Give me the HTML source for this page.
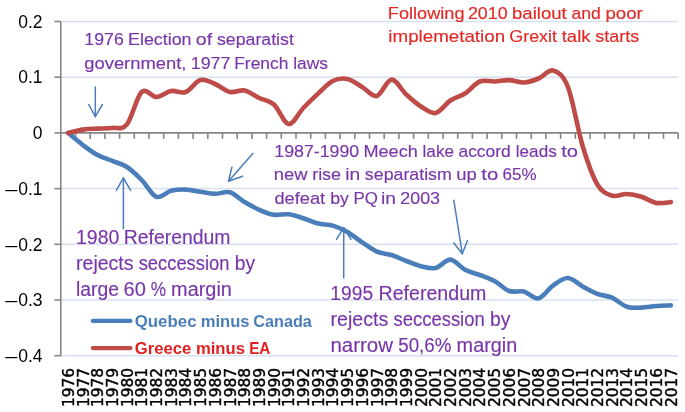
<!DOCTYPE html><html><head><meta charset="utf-8"><style>html,body{margin:0;padding:0;background:#fff;width:685px;height:412px;overflow:hidden}svg{display:block}</style></head><body>
<svg width="685" height="412" viewBox="0 0 685 412">
<rect width="685" height="412" fill="#fff"/>
<line x1="60.80" y1="21.50" x2="678.20" y2="21.50" stroke="#D6E0EF" stroke-width="1.5"/>
<line x1="60.80" y1="77.20" x2="678.20" y2="77.20" stroke="#D6E0EF" stroke-width="1.5"/>
<line x1="60.80" y1="188.60" x2="678.20" y2="188.60" stroke="#D6E0EF" stroke-width="1.5"/>
<line x1="60.80" y1="244.30" x2="678.20" y2="244.30" stroke="#D6E0EF" stroke-width="1.5"/>
<line x1="60.80" y1="300.00" x2="678.20" y2="300.00" stroke="#D6E0EF" stroke-width="1.5"/>
<line x1="60.80" y1="355.70" x2="678.20" y2="355.70" stroke="#D6E0EF" stroke-width="1.5"/>
<line x1="60.80" y1="21.50" x2="60.80" y2="355.70" stroke="#868686" stroke-width="1.6"/>
<line x1="54.40" y1="21.50" x2="60.80" y2="21.50" stroke="#868686" stroke-width="1.6"/>
<line x1="54.40" y1="77.20" x2="60.80" y2="77.20" stroke="#868686" stroke-width="1.6"/>
<line x1="54.40" y1="132.90" x2="60.80" y2="132.90" stroke="#868686" stroke-width="1.6"/>
<line x1="54.40" y1="188.60" x2="60.80" y2="188.60" stroke="#868686" stroke-width="1.6"/>
<line x1="54.40" y1="244.30" x2="60.80" y2="244.30" stroke="#868686" stroke-width="1.6"/>
<line x1="54.40" y1="300.00" x2="60.80" y2="300.00" stroke="#868686" stroke-width="1.6"/>
<line x1="54.40" y1="355.70" x2="60.80" y2="355.70" stroke="#868686" stroke-width="1.6"/>
<line x1="60.80" y1="132.90" x2="678.20" y2="132.90" stroke="#868686" stroke-width="1.6"/>
<line x1="75.50" y1="132.90" x2="75.50" y2="138.90" stroke="#868686" stroke-width="1.6"/>
<line x1="90.20" y1="132.90" x2="90.20" y2="138.90" stroke="#868686" stroke-width="1.6"/>
<line x1="104.90" y1="132.90" x2="104.90" y2="138.90" stroke="#868686" stroke-width="1.6"/>
<line x1="119.60" y1="132.90" x2="119.60" y2="138.90" stroke="#868686" stroke-width="1.6"/>
<line x1="134.30" y1="132.90" x2="134.30" y2="138.90" stroke="#868686" stroke-width="1.6"/>
<line x1="149.00" y1="132.90" x2="149.00" y2="138.90" stroke="#868686" stroke-width="1.6"/>
<line x1="163.70" y1="132.90" x2="163.70" y2="138.90" stroke="#868686" stroke-width="1.6"/>
<line x1="178.40" y1="132.90" x2="178.40" y2="138.90" stroke="#868686" stroke-width="1.6"/>
<line x1="193.10" y1="132.90" x2="193.10" y2="138.90" stroke="#868686" stroke-width="1.6"/>
<line x1="207.80" y1="132.90" x2="207.80" y2="138.90" stroke="#868686" stroke-width="1.6"/>
<line x1="222.50" y1="132.90" x2="222.50" y2="138.90" stroke="#868686" stroke-width="1.6"/>
<line x1="237.20" y1="132.90" x2="237.20" y2="138.90" stroke="#868686" stroke-width="1.6"/>
<line x1="251.90" y1="132.90" x2="251.90" y2="138.90" stroke="#868686" stroke-width="1.6"/>
<line x1="266.60" y1="132.90" x2="266.60" y2="138.90" stroke="#868686" stroke-width="1.6"/>
<line x1="281.30" y1="132.90" x2="281.30" y2="138.90" stroke="#868686" stroke-width="1.6"/>
<line x1="296.00" y1="132.90" x2="296.00" y2="138.90" stroke="#868686" stroke-width="1.6"/>
<line x1="310.70" y1="132.90" x2="310.70" y2="138.90" stroke="#868686" stroke-width="1.6"/>
<line x1="325.40" y1="132.90" x2="325.40" y2="138.90" stroke="#868686" stroke-width="1.6"/>
<line x1="340.10" y1="132.90" x2="340.10" y2="138.90" stroke="#868686" stroke-width="1.6"/>
<line x1="354.80" y1="132.90" x2="354.80" y2="138.90" stroke="#868686" stroke-width="1.6"/>
<line x1="369.50" y1="132.90" x2="369.50" y2="138.90" stroke="#868686" stroke-width="1.6"/>
<line x1="384.20" y1="132.90" x2="384.20" y2="138.90" stroke="#868686" stroke-width="1.6"/>
<line x1="398.90" y1="132.90" x2="398.90" y2="138.90" stroke="#868686" stroke-width="1.6"/>
<line x1="413.60" y1="132.90" x2="413.60" y2="138.90" stroke="#868686" stroke-width="1.6"/>
<line x1="428.30" y1="132.90" x2="428.30" y2="138.90" stroke="#868686" stroke-width="1.6"/>
<line x1="443.00" y1="132.90" x2="443.00" y2="138.90" stroke="#868686" stroke-width="1.6"/>
<line x1="457.70" y1="132.90" x2="457.70" y2="138.90" stroke="#868686" stroke-width="1.6"/>
<line x1="472.40" y1="132.90" x2="472.40" y2="138.90" stroke="#868686" stroke-width="1.6"/>
<line x1="487.10" y1="132.90" x2="487.10" y2="138.90" stroke="#868686" stroke-width="1.6"/>
<line x1="501.80" y1="132.90" x2="501.80" y2="138.90" stroke="#868686" stroke-width="1.6"/>
<line x1="516.50" y1="132.90" x2="516.50" y2="138.90" stroke="#868686" stroke-width="1.6"/>
<line x1="531.20" y1="132.90" x2="531.20" y2="138.90" stroke="#868686" stroke-width="1.6"/>
<line x1="545.90" y1="132.90" x2="545.90" y2="138.90" stroke="#868686" stroke-width="1.6"/>
<line x1="560.60" y1="132.90" x2="560.60" y2="138.90" stroke="#868686" stroke-width="1.6"/>
<line x1="575.30" y1="132.90" x2="575.30" y2="138.90" stroke="#868686" stroke-width="1.6"/>
<line x1="590.00" y1="132.90" x2="590.00" y2="138.90" stroke="#868686" stroke-width="1.6"/>
<line x1="604.70" y1="132.90" x2="604.70" y2="138.90" stroke="#868686" stroke-width="1.6"/>
<line x1="619.40" y1="132.90" x2="619.40" y2="138.90" stroke="#868686" stroke-width="1.6"/>
<line x1="634.10" y1="132.90" x2="634.10" y2="138.90" stroke="#868686" stroke-width="1.6"/>
<line x1="648.80" y1="132.90" x2="648.80" y2="138.90" stroke="#868686" stroke-width="1.6"/>
<line x1="663.50" y1="132.90" x2="663.50" y2="138.90" stroke="#868686" stroke-width="1.6"/>
<line x1="678.20" y1="132.90" x2="678.20" y2="138.90" stroke="#868686" stroke-width="1.6"/>
<text x="42.6" y="27.70" text-anchor="end" font-family="'Liberation Sans', sans-serif" font-size="17.5" fill="#000">0.2</text>
<text x="42.6" y="83.40" text-anchor="end" font-family="'Liberation Sans', sans-serif" font-size="17.5" fill="#000">0.1</text>
<text x="42.6" y="139.10" text-anchor="end" font-family="'Liberation Sans', sans-serif" font-size="17.5" fill="#000">0</text>
<text x="42.6" y="194.80" text-anchor="end" font-family="'Liberation Sans', sans-serif" font-size="17.5" fill="#000">0.1</text>
<text x="5.2" y="194.80" font-family="'Liberation Sans', sans-serif" font-size="17.5" fill="#000" textLength="12.1" lengthAdjust="spacingAndGlyphs">–</text>
<text x="42.6" y="250.50" text-anchor="end" font-family="'Liberation Sans', sans-serif" font-size="17.5" fill="#000">0.2</text>
<text x="5.2" y="250.50" font-family="'Liberation Sans', sans-serif" font-size="17.5" fill="#000" textLength="12.1" lengthAdjust="spacingAndGlyphs">–</text>
<text x="42.6" y="306.20" text-anchor="end" font-family="'Liberation Sans', sans-serif" font-size="17.5" fill="#000">0.3</text>
<text x="5.2" y="306.20" font-family="'Liberation Sans', sans-serif" font-size="17.5" fill="#000" textLength="12.1" lengthAdjust="spacingAndGlyphs">–</text>
<text x="42.6" y="361.90" text-anchor="end" font-family="'Liberation Sans', sans-serif" font-size="17.5" fill="#000">0.4</text>
<text x="5.2" y="361.90" font-family="'Liberation Sans', sans-serif" font-size="17.5" fill="#000" textLength="12.1" lengthAdjust="spacingAndGlyphs">–</text>
<text transform="translate(73.85 407.1) rotate(-90)" font-family="'DejaVu Sans', sans-serif" font-size="15.5" fill="#000" stroke="#000" stroke-width="0.4" textLength="39.3" lengthAdjust="spacingAndGlyphs">1976</text>
<text transform="translate(88.55 407.1) rotate(-90)" font-family="'DejaVu Sans', sans-serif" font-size="15.5" fill="#000" stroke="#000" stroke-width="0.4" textLength="39.3" lengthAdjust="spacingAndGlyphs">1977</text>
<text transform="translate(103.25 407.1) rotate(-90)" font-family="'DejaVu Sans', sans-serif" font-size="15.5" fill="#000" stroke="#000" stroke-width="0.4" textLength="39.3" lengthAdjust="spacingAndGlyphs">1978</text>
<text transform="translate(117.95 407.1) rotate(-90)" font-family="'DejaVu Sans', sans-serif" font-size="15.5" fill="#000" stroke="#000" stroke-width="0.4" textLength="39.3" lengthAdjust="spacingAndGlyphs">1979</text>
<text transform="translate(132.65 407.1) rotate(-90)" font-family="'DejaVu Sans', sans-serif" font-size="15.5" fill="#000" stroke="#000" stroke-width="0.4" textLength="39.3" lengthAdjust="spacingAndGlyphs">1980</text>
<text transform="translate(147.35 407.1) rotate(-90)" font-family="'DejaVu Sans', sans-serif" font-size="15.5" fill="#000" stroke="#000" stroke-width="0.4" textLength="39.3" lengthAdjust="spacingAndGlyphs">1981</text>
<text transform="translate(162.05 407.1) rotate(-90)" font-family="'DejaVu Sans', sans-serif" font-size="15.5" fill="#000" stroke="#000" stroke-width="0.4" textLength="39.3" lengthAdjust="spacingAndGlyphs">1982</text>
<text transform="translate(176.75 407.1) rotate(-90)" font-family="'DejaVu Sans', sans-serif" font-size="15.5" fill="#000" stroke="#000" stroke-width="0.4" textLength="39.3" lengthAdjust="spacingAndGlyphs">1983</text>
<text transform="translate(191.45 407.1) rotate(-90)" font-family="'DejaVu Sans', sans-serif" font-size="15.5" fill="#000" stroke="#000" stroke-width="0.4" textLength="39.3" lengthAdjust="spacingAndGlyphs">1984</text>
<text transform="translate(206.15 407.1) rotate(-90)" font-family="'DejaVu Sans', sans-serif" font-size="15.5" fill="#000" stroke="#000" stroke-width="0.4" textLength="39.3" lengthAdjust="spacingAndGlyphs">1985</text>
<text transform="translate(220.85 407.1) rotate(-90)" font-family="'DejaVu Sans', sans-serif" font-size="15.5" fill="#000" stroke="#000" stroke-width="0.4" textLength="39.3" lengthAdjust="spacingAndGlyphs">1986</text>
<text transform="translate(235.55 407.1) rotate(-90)" font-family="'DejaVu Sans', sans-serif" font-size="15.5" fill="#000" stroke="#000" stroke-width="0.4" textLength="39.3" lengthAdjust="spacingAndGlyphs">1987</text>
<text transform="translate(250.25 407.1) rotate(-90)" font-family="'DejaVu Sans', sans-serif" font-size="15.5" fill="#000" stroke="#000" stroke-width="0.4" textLength="39.3" lengthAdjust="spacingAndGlyphs">1988</text>
<text transform="translate(264.95 407.1) rotate(-90)" font-family="'DejaVu Sans', sans-serif" font-size="15.5" fill="#000" stroke="#000" stroke-width="0.4" textLength="39.3" lengthAdjust="spacingAndGlyphs">1989</text>
<text transform="translate(279.65 407.1) rotate(-90)" font-family="'DejaVu Sans', sans-serif" font-size="15.5" fill="#000" stroke="#000" stroke-width="0.4" textLength="39.3" lengthAdjust="spacingAndGlyphs">1990</text>
<text transform="translate(294.35 407.1) rotate(-90)" font-family="'DejaVu Sans', sans-serif" font-size="15.5" fill="#000" stroke="#000" stroke-width="0.4" textLength="39.3" lengthAdjust="spacingAndGlyphs">1991</text>
<text transform="translate(309.05 407.1) rotate(-90)" font-family="'DejaVu Sans', sans-serif" font-size="15.5" fill="#000" stroke="#000" stroke-width="0.4" textLength="39.3" lengthAdjust="spacingAndGlyphs">1992</text>
<text transform="translate(323.75 407.1) rotate(-90)" font-family="'DejaVu Sans', sans-serif" font-size="15.5" fill="#000" stroke="#000" stroke-width="0.4" textLength="39.3" lengthAdjust="spacingAndGlyphs">1993</text>
<text transform="translate(338.45 407.1) rotate(-90)" font-family="'DejaVu Sans', sans-serif" font-size="15.5" fill="#000" stroke="#000" stroke-width="0.4" textLength="39.3" lengthAdjust="spacingAndGlyphs">1994</text>
<text transform="translate(353.15 407.1) rotate(-90)" font-family="'DejaVu Sans', sans-serif" font-size="15.5" fill="#000" stroke="#000" stroke-width="0.4" textLength="39.3" lengthAdjust="spacingAndGlyphs">1995</text>
<text transform="translate(367.85 407.1) rotate(-90)" font-family="'DejaVu Sans', sans-serif" font-size="15.5" fill="#000" stroke="#000" stroke-width="0.4" textLength="39.3" lengthAdjust="spacingAndGlyphs">1996</text>
<text transform="translate(382.55 407.1) rotate(-90)" font-family="'DejaVu Sans', sans-serif" font-size="15.5" fill="#000" stroke="#000" stroke-width="0.4" textLength="39.3" lengthAdjust="spacingAndGlyphs">1997</text>
<text transform="translate(397.25 407.1) rotate(-90)" font-family="'DejaVu Sans', sans-serif" font-size="15.5" fill="#000" stroke="#000" stroke-width="0.4" textLength="39.3" lengthAdjust="spacingAndGlyphs">1998</text>
<text transform="translate(411.95 407.1) rotate(-90)" font-family="'DejaVu Sans', sans-serif" font-size="15.5" fill="#000" stroke="#000" stroke-width="0.4" textLength="39.3" lengthAdjust="spacingAndGlyphs">1999</text>
<text transform="translate(426.65 407.1) rotate(-90)" font-family="'DejaVu Sans', sans-serif" font-size="15.5" fill="#000" stroke="#000" stroke-width="0.4" textLength="39.3" lengthAdjust="spacingAndGlyphs">2000</text>
<text transform="translate(441.35 407.1) rotate(-90)" font-family="'DejaVu Sans', sans-serif" font-size="15.5" fill="#000" stroke="#000" stroke-width="0.4" textLength="39.3" lengthAdjust="spacingAndGlyphs">2001</text>
<text transform="translate(456.05 407.1) rotate(-90)" font-family="'DejaVu Sans', sans-serif" font-size="15.5" fill="#000" stroke="#000" stroke-width="0.4" textLength="39.3" lengthAdjust="spacingAndGlyphs">2002</text>
<text transform="translate(470.75 407.1) rotate(-90)" font-family="'DejaVu Sans', sans-serif" font-size="15.5" fill="#000" stroke="#000" stroke-width="0.4" textLength="39.3" lengthAdjust="spacingAndGlyphs">2003</text>
<text transform="translate(485.45 407.1) rotate(-90)" font-family="'DejaVu Sans', sans-serif" font-size="15.5" fill="#000" stroke="#000" stroke-width="0.4" textLength="39.3" lengthAdjust="spacingAndGlyphs">2004</text>
<text transform="translate(500.15 407.1) rotate(-90)" font-family="'DejaVu Sans', sans-serif" font-size="15.5" fill="#000" stroke="#000" stroke-width="0.4" textLength="39.3" lengthAdjust="spacingAndGlyphs">2005</text>
<text transform="translate(514.85 407.1) rotate(-90)" font-family="'DejaVu Sans', sans-serif" font-size="15.5" fill="#000" stroke="#000" stroke-width="0.4" textLength="39.3" lengthAdjust="spacingAndGlyphs">2006</text>
<text transform="translate(529.55 407.1) rotate(-90)" font-family="'DejaVu Sans', sans-serif" font-size="15.5" fill="#000" stroke="#000" stroke-width="0.4" textLength="39.3" lengthAdjust="spacingAndGlyphs">2007</text>
<text transform="translate(544.25 407.1) rotate(-90)" font-family="'DejaVu Sans', sans-serif" font-size="15.5" fill="#000" stroke="#000" stroke-width="0.4" textLength="39.3" lengthAdjust="spacingAndGlyphs">2008</text>
<text transform="translate(558.95 407.1) rotate(-90)" font-family="'DejaVu Sans', sans-serif" font-size="15.5" fill="#000" stroke="#000" stroke-width="0.4" textLength="39.3" lengthAdjust="spacingAndGlyphs">2009</text>
<text transform="translate(573.65 407.1) rotate(-90)" font-family="'DejaVu Sans', sans-serif" font-size="15.5" fill="#000" stroke="#000" stroke-width="0.4" textLength="39.3" lengthAdjust="spacingAndGlyphs">2010</text>
<text transform="translate(588.35 407.1) rotate(-90)" font-family="'DejaVu Sans', sans-serif" font-size="15.5" fill="#000" stroke="#000" stroke-width="0.4" textLength="39.3" lengthAdjust="spacingAndGlyphs">2011</text>
<text transform="translate(603.05 407.1) rotate(-90)" font-family="'DejaVu Sans', sans-serif" font-size="15.5" fill="#000" stroke="#000" stroke-width="0.4" textLength="39.3" lengthAdjust="spacingAndGlyphs">2012</text>
<text transform="translate(617.75 407.1) rotate(-90)" font-family="'DejaVu Sans', sans-serif" font-size="15.5" fill="#000" stroke="#000" stroke-width="0.4" textLength="39.3" lengthAdjust="spacingAndGlyphs">2013</text>
<text transform="translate(632.45 407.1) rotate(-90)" font-family="'DejaVu Sans', sans-serif" font-size="15.5" fill="#000" stroke="#000" stroke-width="0.4" textLength="39.3" lengthAdjust="spacingAndGlyphs">2014</text>
<text transform="translate(647.15 407.1) rotate(-90)" font-family="'DejaVu Sans', sans-serif" font-size="15.5" fill="#000" stroke="#000" stroke-width="0.4" textLength="39.3" lengthAdjust="spacingAndGlyphs">2015</text>
<text transform="translate(661.85 407.1) rotate(-90)" font-family="'DejaVu Sans', sans-serif" font-size="15.5" fill="#000" stroke="#000" stroke-width="0.4" textLength="39.3" lengthAdjust="spacingAndGlyphs">2016</text>
<text transform="translate(676.55 407.1) rotate(-90)" font-family="'DejaVu Sans', sans-serif" font-size="15.5" fill="#000" stroke="#000" stroke-width="0.4" textLength="39.3" lengthAdjust="spacingAndGlyphs">2017</text>
<path d="M68.15 133.00 C70.60 135.00 77.95 141.33 82.85 145.00 C87.75 148.67 92.65 152.37 97.55 155.00 C102.45 157.63 107.35 158.80 112.25 160.80 C117.15 162.80 122.05 163.80 126.95 167.00 C131.85 170.20 136.75 175.03 141.65 180.00 C146.55 184.97 151.45 195.00 156.35 196.80 C161.25 198.60 166.15 192.00 171.05 190.80 C175.95 189.60 180.85 189.43 185.75 189.60 C190.65 189.77 195.55 191.10 200.45 191.80 C205.35 192.50 210.25 193.72 215.15 193.80 C220.05 193.88 224.95 190.93 229.85 192.30 C234.75 193.67 239.65 199.08 244.55 202.00 C249.45 204.92 254.35 207.68 259.25 209.80 C264.15 211.92 269.05 213.95 273.95 214.70 C278.85 215.45 283.75 213.72 288.65 214.30 C293.55 214.88 298.45 216.65 303.35 218.20 C308.25 219.75 313.15 222.37 318.05 223.60 C322.95 224.83 327.85 224.20 332.75 225.60 C337.65 227.00 342.55 229.22 347.45 232.00 C352.35 234.78 357.25 239.03 362.15 242.30 C367.05 245.57 371.95 249.48 376.85 251.60 C381.75 253.72 386.65 253.43 391.55 255.00 C396.45 256.57 401.35 259.12 406.25 261.00 C411.15 262.88 416.05 265.13 420.95 266.30 C425.85 267.47 430.75 269.12 435.65 268.00 C440.55 266.88 445.45 259.32 450.35 259.60 C455.25 259.88 460.15 267.13 465.05 269.70 C469.95 272.27 474.85 273.12 479.75 275.00 C484.65 276.88 489.55 278.33 494.45 281.00 C499.35 283.67 504.25 289.23 509.15 291.00 C514.05 292.77 518.95 290.38 523.85 291.60 C528.75 292.82 533.65 299.35 538.55 298.30 C543.45 297.25 548.35 288.68 553.25 285.30 C558.15 281.92 563.05 277.82 567.95 278.00 C572.85 278.18 577.75 283.75 582.65 286.40 C587.55 289.05 592.45 292.02 597.35 293.90 C602.25 295.78 607.15 295.57 612.05 297.70 C616.95 299.83 621.85 305.05 626.75 306.70 C631.65 308.35 636.55 307.72 641.45 307.60 C646.35 307.48 651.25 306.37 656.15 306.00 C661.05 305.63 668.40 305.50 670.85 305.40" fill="none" stroke="#4A7EBB" stroke-width="4.6" stroke-linecap="round" stroke-linejoin="round"/>
<path d="M68.15 132.90 C70.60 132.35 77.95 130.32 82.85 129.60 C87.75 128.88 92.65 128.87 97.55 128.60 C102.45 128.33 107.35 128.70 112.25 128.00 C117.15 127.30 122.05 130.40 126.95 124.40 C131.85 118.40 136.75 96.57 141.65 92.00 C146.55 87.43 151.45 97.17 156.35 97.00 C161.25 96.83 166.15 91.83 171.05 91.00 C175.95 90.17 180.85 93.83 185.75 92.00 C190.65 90.17 195.55 81.33 200.45 80.00 C205.35 78.67 210.25 82.00 215.15 84.00 C220.05 86.00 224.95 90.92 229.85 92.00 C234.75 93.08 239.65 89.50 244.55 90.50 C249.45 91.50 254.35 95.67 259.25 98.00 C264.15 100.33 269.05 100.17 273.95 104.50 C278.85 108.83 283.75 123.42 288.65 124.00 C293.55 124.58 298.45 113.07 303.35 108.00 C308.25 102.93 313.15 98.10 318.05 93.60 C322.95 89.10 327.85 83.43 332.75 81.00 C337.65 78.57 342.55 78.00 347.45 79.00 C352.35 80.00 357.25 84.17 362.15 87.00 C367.05 89.83 371.95 97.23 376.85 96.00 C381.75 94.77 386.65 79.85 391.55 79.60 C396.45 79.35 401.35 90.02 406.25 94.50 C411.15 98.98 416.05 103.42 420.95 106.50 C425.85 109.58 430.75 114.00 435.65 113.00 C440.55 112.00 445.45 103.75 450.35 100.50 C455.25 97.25 460.15 96.67 465.05 93.50 C469.95 90.33 474.85 83.50 479.75 81.50 C484.65 79.50 489.55 81.73 494.45 81.50 C499.35 81.27 504.25 79.93 509.15 80.10 C514.05 80.27 518.95 82.77 523.85 82.50 C528.75 82.23 533.65 80.50 538.55 78.50 C543.45 76.50 548.35 69.08 553.25 70.50 C558.15 71.92 563.05 74.42 567.95 87.00 C572.85 99.58 577.75 129.75 582.65 146.00 C587.55 162.25 592.45 176.22 597.35 184.50 C602.25 192.78 607.15 194.12 612.05 195.70 C616.95 197.28 621.85 193.82 626.75 194.00 C631.65 194.18 636.55 195.32 641.45 196.80 C646.35 198.28 651.25 202.02 656.15 202.90 C661.05 203.78 668.40 202.23 670.85 202.10" fill="none" stroke="#BE4B48" stroke-width="4.6" stroke-linecap="round" stroke-linejoin="round"/>
<g stroke="#4A7EBB" stroke-width="1.5" fill="none" stroke-linecap="round" stroke-linejoin="round"><line x1="95.3" y1="86.9" x2="95.3" y2="116.7"/><polyline points="88.7,104.5 95.3,116.7 102.4,104.5"/></g>
<g stroke="#4A7EBB" stroke-width="1.5" fill="none" stroke-linecap="round" stroke-linejoin="round"><line x1="123.4" y1="228.7" x2="123.4" y2="177.8"/><polyline points="116.3,190.4 123.4,177.8 130.6,190.4"/></g>
<g stroke="#4A7EBB" stroke-width="1.5" fill="none" stroke-linecap="round" stroke-linejoin="round"><line x1="252.8" y1="153.4" x2="228.5" y2="181.3"/><polyline points="231.9,167.3 228.5,181.3 242.5,176.2"/></g>
<g stroke="#4A7EBB" stroke-width="1.5" fill="none" stroke-linecap="round" stroke-linejoin="round"><line x1="343.7" y1="277.9" x2="343.7" y2="227.6"/><polyline points="336.5,239.4 343.7,227.6 351.0,239.4"/></g>
<g stroke="#4A7EBB" stroke-width="1.5" fill="none" stroke-linecap="round" stroke-linejoin="round"><line x1="453.8" y1="200.2" x2="462.3" y2="253.8"/><polyline points="453.8,243.0 462.3,253.8 467.4,240.7"/></g>
<line x1="92.8" y1="320.9" x2="130.4" y2="320.9" stroke="#4A7EBB" stroke-width="4.2" stroke-linecap="round"/>
<line x1="92.8" y1="348.1" x2="130.4" y2="348.1" stroke="#BE4B48" stroke-width="4.2" stroke-linecap="round"/>
<g font-family="&quot;Liberation Sans&quot;, sans-serif" stroke="#7836AA" stroke-width="0.15"><text x="84.36" y="44.80" font-size="17.00" font-weight="400" fill="#7836AA" textLength="39.43" lengthAdjust="spacingAndGlyphs">1976</text><text x="128.03" y="44.80" font-size="17.00" font-weight="400" fill="#7836AA" textLength="63.48" lengthAdjust="spacingAndGlyphs">Election</text><text x="195.82" y="44.80" font-size="17.00" font-weight="400" fill="#7836AA" textLength="16.33" lengthAdjust="spacingAndGlyphs">of</text><text x="216.94" y="44.80" font-size="17.00" font-weight="400" fill="#7836AA" textLength="76.92" lengthAdjust="spacingAndGlyphs">separatist</text></g>
<g font-family="&quot;Liberation Sans&quot;, sans-serif" stroke="#7836AA" stroke-width="0.15"><text x="84.26" y="68.90" font-size="17.00" font-weight="400" fill="#7836AA" textLength="102.19" lengthAdjust="spacingAndGlyphs">government,</text><text x="190.74" y="68.90" font-size="17.00" font-weight="400" fill="#7836AA" textLength="39.61" lengthAdjust="spacingAndGlyphs">1977</text><text x="234.24" y="68.90" font-size="17.00" font-weight="400" fill="#7836AA" textLength="54.18" lengthAdjust="spacingAndGlyphs">French</text><text x="293.27" y="68.90" font-size="17.00" font-weight="400" fill="#7836AA" textLength="34.75" lengthAdjust="spacingAndGlyphs">laws</text></g>
<g font-family="&quot;Liberation Sans&quot;, sans-serif" stroke="#E32824" stroke-width="0.15"><text x="387.85" y="18.90" font-size="17.00" font-weight="400" fill="#E32824" textLength="76.64" lengthAdjust="spacingAndGlyphs">Following</text><text x="467.94" y="18.90" font-size="17.00" font-weight="400" fill="#E32824" textLength="39.75" lengthAdjust="spacingAndGlyphs">2010</text><text x="512.00" y="18.90" font-size="17.00" font-weight="400" fill="#E32824" textLength="54.71" lengthAdjust="spacingAndGlyphs">bailout</text><text x="571.49" y="18.90" font-size="17.00" font-weight="400" fill="#E32824" textLength="29.31" lengthAdjust="spacingAndGlyphs">and</text><text x="605.51" y="18.90" font-size="17.00" font-weight="400" fill="#E32824" textLength="37.23" lengthAdjust="spacingAndGlyphs">poor</text></g>
<g font-family="&quot;Liberation Sans&quot;, sans-serif" stroke="#E32824" stroke-width="0.15"><text x="388.37" y="41.90" font-size="17.00" font-weight="400" fill="#E32824" textLength="116.75" lengthAdjust="spacingAndGlyphs">implemetation</text><text x="509.26" y="41.90" font-size="17.00" font-weight="400" fill="#E32824" textLength="47.74" lengthAdjust="spacingAndGlyphs">Grexit</text><text x="561.75" y="41.90" font-size="17.00" font-weight="400" fill="#E32824" textLength="28.72" lengthAdjust="spacingAndGlyphs">talk</text><text x="595.39" y="41.90" font-size="17.00" font-weight="400" fill="#E32824" textLength="43.75" lengthAdjust="spacingAndGlyphs">starts</text></g>
<g font-family="&quot;Liberation Sans&quot;, sans-serif" stroke="#7836AA" stroke-width="0.15"><text x="274.26" y="157.00" font-size="17.00" font-weight="400" fill="#7836AA" textLength="84.96" lengthAdjust="spacingAndGlyphs">1987-1990</text><text x="363.42" y="157.00" font-size="17.00" font-weight="400" fill="#7836AA" textLength="54.35" lengthAdjust="spacingAndGlyphs">Meech</text><text x="422.57" y="157.00" font-size="17.00" font-weight="400" fill="#7836AA" textLength="31.48" lengthAdjust="spacingAndGlyphs">lake</text><text x="458.45" y="157.00" font-size="17.00" font-weight="400" fill="#7836AA" textLength="52.31" lengthAdjust="spacingAndGlyphs">accord</text><text x="515.80" y="157.00" font-size="17.00" font-weight="400" fill="#7836AA" textLength="40.93" lengthAdjust="spacingAndGlyphs">leads</text><text x="561.22" y="157.00" font-size="17.00" font-weight="400" fill="#7836AA" textLength="16.81" lengthAdjust="spacingAndGlyphs">to</text></g>
<g font-family="&quot;Liberation Sans&quot;, sans-serif" stroke="#7836AA" stroke-width="0.15"><text x="273.70" y="180.20" font-size="17.00" font-weight="400" fill="#7836AA" textLength="33.73" lengthAdjust="spacingAndGlyphs">new</text><text x="312.21" y="180.20" font-size="17.00" font-weight="400" fill="#7836AA" textLength="28.81" lengthAdjust="spacingAndGlyphs">rise</text><text x="345.19" y="180.20" font-size="17.00" font-weight="400" fill="#7836AA" textLength="15.00" lengthAdjust="spacingAndGlyphs">in</text><text x="364.87" y="180.20" font-size="17.00" font-weight="400" fill="#7836AA" textLength="86.91" lengthAdjust="spacingAndGlyphs">separatism</text><text x="456.33" y="180.20" font-size="17.00" font-weight="400" fill="#7836AA" textLength="20.54" lengthAdjust="spacingAndGlyphs">up</text><text x="481.34" y="180.20" font-size="17.00" font-weight="400" fill="#7836AA" textLength="16.95" lengthAdjust="spacingAndGlyphs">to</text><text x="502.47" y="180.20" font-size="17.00" font-weight="400" fill="#7836AA" textLength="34.03" lengthAdjust="spacingAndGlyphs">65%</text></g>
<g font-family="&quot;Liberation Sans&quot;, sans-serif" stroke="#7836AA" stroke-width="0.15"><text x="274.47" y="204.30" font-size="17.00" font-weight="400" fill="#7836AA" textLength="50.70" lengthAdjust="spacingAndGlyphs">defeat</text><text x="330.24" y="204.30" font-size="17.00" font-weight="400" fill="#7836AA" textLength="18.71" lengthAdjust="spacingAndGlyphs">by</text><text x="353.45" y="204.30" font-size="17.00" font-weight="400" fill="#7836AA" textLength="24.44" lengthAdjust="spacingAndGlyphs">PQ</text><text x="381.00" y="204.30" font-size="17.00" font-weight="400" fill="#7836AA" textLength="14.96" lengthAdjust="spacingAndGlyphs">in</text><text x="400.28" y="204.30" font-size="17.00" font-weight="400" fill="#7836AA" textLength="39.76" lengthAdjust="spacingAndGlyphs">2003</text></g>
<g font-family="&quot;Liberation Sans&quot;, sans-serif" stroke="#7836AA" stroke-width="0.15"><text x="76.04" y="243.90" font-size="19.60" font-weight="400" fill="#7836AA" textLength="43.28" lengthAdjust="spacingAndGlyphs">1980</text><text x="123.75" y="243.90" font-size="19.60" font-weight="400" fill="#7836AA" textLength="106.78" lengthAdjust="spacingAndGlyphs">Referendum</text></g>
<g font-family="&quot;Liberation Sans&quot;, sans-serif" stroke="#7836AA" stroke-width="0.15"><text x="76.03" y="270.20" font-size="19.60" font-weight="400" fill="#7836AA" textLength="57.52" lengthAdjust="spacingAndGlyphs">rejects</text><text x="138.69" y="270.20" font-size="19.60" font-weight="400" fill="#7836AA" textLength="90.77" lengthAdjust="spacingAndGlyphs">seccession</text><text x="234.74" y="270.20" font-size="19.60" font-weight="400" fill="#7836AA" textLength="20.26" lengthAdjust="spacingAndGlyphs">by</text></g>
<g font-family="&quot;Liberation Sans&quot;, sans-serif" stroke="#7836AA" stroke-width="0.15"><text x="76.04" y="296.20" font-size="19.60" font-weight="400" fill="#7836AA" textLength="42.95" lengthAdjust="spacingAndGlyphs">large</text><text x="123.62" y="296.20" font-size="19.60" font-weight="400" fill="#7836AA" textLength="22.36" lengthAdjust="spacingAndGlyphs">60</text><text x="150.63" y="296.20" font-size="19.60" font-weight="400" fill="#7836AA" textLength="15.25" lengthAdjust="spacingAndGlyphs">%</text><text x="171.10" y="296.20" font-size="19.60" font-weight="400" fill="#7836AA" textLength="60.81" lengthAdjust="spacingAndGlyphs">margin</text></g>
<g font-family="&quot;Liberation Sans&quot;, sans-serif" stroke="#7836AA" stroke-width="0.15"><text x="330.35" y="299.90" font-size="19.60" font-weight="400" fill="#7836AA" textLength="42.83" lengthAdjust="spacingAndGlyphs">1995</text><text x="378.53" y="299.90" font-size="19.60" font-weight="400" fill="#7836AA" textLength="107.90" lengthAdjust="spacingAndGlyphs">Referendum</text></g>
<g font-family="&quot;Liberation Sans&quot;, sans-serif" stroke="#7836AA" stroke-width="0.15"><text x="330.52" y="326.10" font-size="19.60" font-weight="400" fill="#7836AA" textLength="57.81" lengthAdjust="spacingAndGlyphs">rejects</text><text x="393.50" y="326.10" font-size="19.60" font-weight="400" fill="#7836AA" textLength="91.23" lengthAdjust="spacingAndGlyphs">seccession</text><text x="490.04" y="326.10" font-size="19.60" font-weight="400" fill="#7836AA" textLength="20.36" lengthAdjust="spacingAndGlyphs">by</text></g>
<g font-family="&quot;Liberation Sans&quot;, sans-serif" stroke="#7836AA" stroke-width="0.15"><text x="330.47" y="352.40" font-size="19.60" font-weight="400" fill="#7836AA" textLength="62.48" lengthAdjust="spacingAndGlyphs">narrow</text><text x="398.19" y="352.40" font-size="19.60" font-weight="400" fill="#7836AA" textLength="53.29" lengthAdjust="spacingAndGlyphs">50,6%</text><text x="456.63" y="352.40" font-size="19.60" font-weight="400" fill="#7836AA" textLength="60.58" lengthAdjust="spacingAndGlyphs">margin</text></g>
<g font-family="&quot;Liberation Sans&quot;, sans-serif" stroke="#4A7EBB" stroke-width="0.00"><text x="134.73" y="327.20" font-size="17.30" font-weight="700" fill="#4A7EBB" textLength="61.81" lengthAdjust="spacingAndGlyphs">Quebec</text><text x="200.77" y="327.20" font-size="17.30" font-weight="700" fill="#4A7EBB" textLength="48.76" lengthAdjust="spacingAndGlyphs">minus</text><text x="253.37" y="327.20" font-size="17.30" font-weight="700" fill="#4A7EBB" textLength="58.50" lengthAdjust="spacingAndGlyphs">Canada</text></g>
<g font-family="&quot;Liberation Sans&quot;, sans-serif" stroke="#E21F1F" stroke-width="0.00"><text x="134.73" y="354.00" font-size="17.30" font-weight="700" fill="#E21F1F" textLength="56.59" lengthAdjust="spacingAndGlyphs">Greece</text><text x="195.88" y="354.00" font-size="17.30" font-weight="700" fill="#E21F1F" textLength="49.07" lengthAdjust="spacingAndGlyphs">minus</text><text x="249.14" y="354.00" font-size="17.30" font-weight="700" fill="#E21F1F" textLength="21.30" lengthAdjust="spacingAndGlyphs">EA</text></g>
</svg></body></html>
